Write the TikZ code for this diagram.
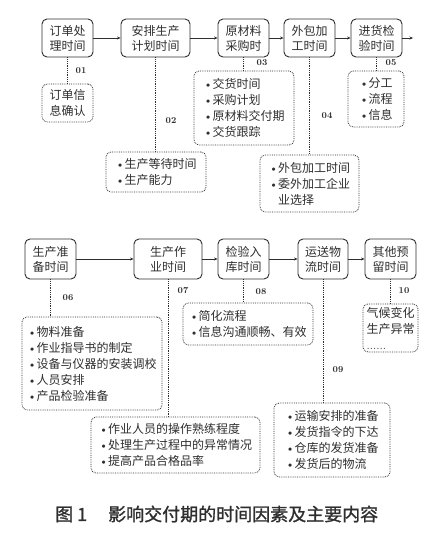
\documentclass[tikz,border=0pt]{standalone}
\usepackage{fontspec}
\newfontfamily\cjk{Noto Sans CJK SC}
\newfontfamily\capfont{Noto Sans CJK SC}[FakeBold=1.2]
\usetikzlibrary{arrows.meta}
\definecolor{ink}{HTML}{2E2E2E}
\newcommand{\bu}{\makebox[9pt][l]{\normalfont\textbullet}}
\begin{document}
\begin{tikzpicture}[x=1pt,y=-1pt,
  tbox/.style={draw=ink, line width=0.9pt, rounded corners=5pt, inner sep=0pt, align=center,
    font=\cjk\fontsize{12}{15}\selectfont, text=ink},
  dbox/.style={draw=ink, densely dotted, line width=0.8pt, rounded corners=5pt, inner sep=0pt, align=left,
    font=\cjk\fontsize{12}{16}\selectfont, text=ink},
  conn/.style={draw=ink, densely dotted, line width=0.8pt},
  arr/.style={draw=ink, line width=0.7pt, -{Stealth[length=3.5pt,width=3pt]}},
  lab/.style={font=\fontsize{9}{9}\selectfont\bfseries, text=ink, inner sep=0pt}]
\useasboundingbox (0,0) rectangle (440,534);
% top row
\node[tbox, minimum width=51pt, minimum height=38pt] (b1) at (67.5,38) {订单处\\理时间};
\node[tbox, minimum width=69pt, minimum height=38pt] (b2) at (155.5,38) {安排生产\\计划时间};
\node[tbox, minimum width=51pt, minimum height=38pt] (b3) at (243.5,38) {原材料\\采购时};
\node[tbox, minimum width=51pt, minimum height=38pt] (b4) at (309.5,38) {外包加\\工时间};
\node[tbox, minimum width=51pt, minimum height=38pt] (b5) at (376.5,38) {进货检\\验时间};
\coordinate (e5) at (413,38);
\draw[arr] (b1) -- (b2);
\draw[arr] (b2) -- (b3);
\draw[arr] (b3) -- (b4);
\draw[arr] (b4) -- (b5);
\draw[arr] (b5) -- (e5);
% top details
\node[dbox, minimum width=51pt, minimum height=38pt] (d1) at (67.5,103) {订单信\\息确认};
\node[dbox, minimum width=100pt, minimum height=40pt] (d2) at (156,172) {\bu 生产等待时间\\\bu 生产能力};
\node[dbox, minimum width=100pt, minimum height=74pt] (d3) at (244,108) {\bu 交货时间\\\bu 采购计划\\\bu 原材料交付期\\\bu 交货跟踪};
\node[dbox, minimum width=99pt, minimum height=57pt] (d4) at (309.5,183.5) {\bu 外包加工时间\\\bu 委外加工企业\\\hspace*{9pt}业选择};
\node[dbox, minimum width=56pt, minimum height=56pt] (d5) at (376,99) {\bu 分工\\\bu 流程\\\bu 信息};
\draw[conn] (b1.south) -- (b1.south |- d1.north);
\draw[conn] (b2.south) -- (b2.south |- d2.north);
\draw[conn] (b3.south) -- (b3.south |- d3.north);
\draw[conn] (b4.south) -- (b4.south |- d4.north);
\draw[conn] (b5.south) -- (b5.south |- d5.north);
\node[lab] (l1) at (81,71) {01};
\node[lab] (l2) at (171,121) {02};
\node[lab] (l3) at (262,63) {03};
\node[lab] (l4) at (327,116) {04};
\node[lab] (l5) at (391,63) {05};
% bottom row
\node[tbox, minimum width=51pt, minimum height=40pt] (b6) at (50.5,259) {生产准\\备时间};
\node[tbox, minimum width=68pt, minimum height=40pt] (b7) at (168,259) {生产作\\业时间};
\node[tbox, minimum width=51pt, minimum height=40pt] (b8) at (243.5,259) {检验入\\库时间};
\node[tbox, minimum width=50pt, minimum height=40pt] (b9) at (323,259) {运送物\\流时间};
\node[tbox, minimum width=51pt, minimum height=40pt] (b10) at (390.5,259) {其他预\\留时间};
\draw[arr] (b6) -- (b7);
\draw[arr] (b7) -- (b8);
\draw[arr] (b8) -- (b9);
\draw[arr] (b9) -- (b10);
% bottom details
\node[dbox, minimum width=140pt, minimum height=93pt] (d6) at (92,363.5) {\bu 物料准备\\\bu 作业指导书的制定\\\bu 设备与仪器的安装调校\\\bu 人员安排\\\bu 产品检验准备};
\node[dbox, minimum width=169pt, minimum height=56pt] (d7) at (175.5,445) {\bu 作业人员的操作熟练程度\\\bu 处理生产过程中的异常情况\\\bu 提高产品合格品率};
\node[dbox, minimum width=130pt, minimum height=42pt] (d8) at (248,324) {\bu 简化流程\\\bu 信息沟通顺畅、有效};
\node[dbox, minimum width=116pt, minimum height=74pt] (d9) at (332,440) {\bu 运输安排的准备\\\bu 发货指令的下达\\\bu 仓库的发货准备\\\bu 发货后的物流};
\node[dbox, minimum width=55pt, minimum height=48pt] (d10) at (390.5,328) {气候变化\\生产异常\\{\normalfont ......}};
\draw[conn] (b6.south) -- (b6.south |- d6.north);
\draw[conn] (b7.south) -- (b7.south |- d7.north);
\draw[conn] (b8.south) -- (b8.south |- d8.north);
\draw[conn] (b9.south) -- (b9.south |- d9.north);
\draw[conn] (b10.south) -- (b10.south |- d10.north);
\node[lab] (l6) at (68,298) {06};
\node[lab] (l7) at (183,291) {07};
\node[lab] (l8) at (261,292) {08};
\node[lab] (l9) at (338,370) {09};
\node[lab] (l10) at (404,291) {10};
% caption
\node[anchor=west, inner sep=0pt, text=ink, font=\capfont\fontsize{18}{18}\selectfont] (cap) at (55,514) {图 1\hspace{21pt}影响交付期的时间因素及主要内容};
\end{tikzpicture}
\end{document}
